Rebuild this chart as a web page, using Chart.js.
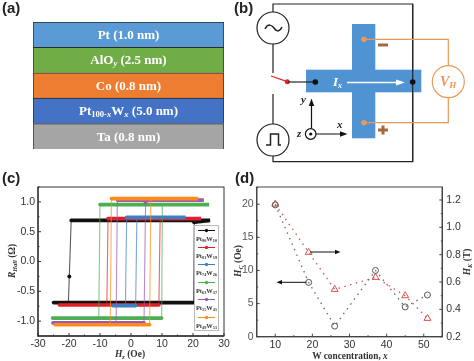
<!DOCTYPE html>
<html>
<head>
<meta charset="utf-8">
<script src="https://cdn.jsdelivr.net/npm/chart.js@4/dist/chart.umd.min.js"></script>
<style>
html, body { margin: 0; padding: 0; background: #fff; }
#page { position: relative; width: 474px; height: 361px; overflow: hidden; }
canvas { position: absolute; }
#page > svg { position: absolute; left: 0; top: 0; }
.panel { position: absolute; font: bold 15px "Liberation Sans", sans-serif; color: #222; }
.serif { font-family: "Liberation Serif", serif; font-weight: bold; }
.ax { position: absolute; white-space: nowrap; color: #333; transform: translate(-50%, -50%); }
.rot { transform: translate(-50%, -50%) rotate(-90deg); }
sub { font-size: 66%; line-height: 0; vertical-align: -0.25em; }
#layers { position: absolute; left: 33px; top: 22px; width: 191px; height: 127px; }
#layers div { height: 25.4px; line-height: 25.4px; text-align: center; color: #fff; font-size: 13px; white-space: nowrap; }
#legend { position: absolute; left: 194px; top: 225px; width: 25px; height: 106px; box-sizing: border-box; border: 1px solid #bbb; background: #fff; }
#legend .row { position: absolute; left: 0; width: 23px; text-align: center; font-size: 6.5px; line-height: 7px; color: #333; white-space: nowrap; }
#legend .row svg { display: block; margin: 0 auto 2px; }
</style>
</head>
<body>
<div id="page">
  <canvas id="stack" width="191" height="127" style="left:33px;top:22px"></canvas>
  <div id="layers" class="serif"></div>
  <canvas id="hall" width="235" height="191" style="left:0;top:170px"></canvas>
  <canvas id="conc" width="239" height="191" style="left:235px;top:170px"></canvas>

  <svg width="474" height="361" viewBox="0 0 474 361">
    <!-- (b) circuit -->
    <g fill="none" stroke="#222" stroke-width="1.2">
      <path d="M273 44V73M273 94V124M273 156V161.7H412.7V4H273V12"/>
      <circle cx="273" cy="28" r="16"/>
      <circle cx="273" cy="140" r="16"/>
      <path d="M265 29C268 23 272 25 274 28C276 31 279 33 282 27" stroke-width="1.5"/>
      <path d="M266 145H270.5V134H278.5V145H281" stroke-width="1.5"/>
    </g>
    <rect x="306" y="69.7" width="115.3" height="22.6" fill="#4f93d2"/>
    <rect x="352" y="24" width="23.3" height="114.3" fill="#4f93d2"/>
    <path d="M412.7 4V161.7" stroke="#222" stroke-width="1.2"/>
    <path d="M271 76L287.3 81.7" stroke="#d8262c" stroke-width="1.3"/>
    <circle cx="287.3" cy="81.7" r="2.5" fill="#d8262c"/>
    <path d="M288 82H315" stroke="#222" stroke-width="1.2"/>
    <circle cx="315.3" cy="82" r="2.8" fill="#111"/>
    <circle cx="412.7" cy="82" r="2.8" fill="#111"/>
    <path d="M347 82.5H402" stroke="#fff" stroke-width="1.6"/>
    <path d="M405 82.5L396 79.5V85.5Z" fill="#fff"/>
    <text class="serif" x="333" y="86" font-size="13" font-style="italic" fill="#fff">I<tspan font-size="8" dy="2">x</tspan></text>
    <g fill="none" stroke="#e8995a" stroke-width="1.2">
      <path d="M364 39.3H448.3V65.7M448.3 97.7V122.7H364"/>
      <circle cx="448.3" cy="81.7" r="16"/>
    </g>
    <circle cx="364" cy="39.3" r="2.8" fill="#e8995a"/>
    <circle cx="364" cy="122.7" r="2.8" fill="#e8995a"/>
    <text class="serif" x="440" y="86" font-size="14" font-style="italic" fill="#e8995a">V<tspan font-size="9" dy="2">H</tspan></text>
    <path d="M378 45H388" stroke="#a5683f" stroke-width="3"/>
    <path d="M378 130H388M383 125.5V134.5" stroke="#a5683f" stroke-width="3"/>
    <g stroke="#111" stroke-width="1.2" fill="none">
      <circle cx="310.7" cy="134" r="5.3"/>
      <path d="M311.5 128V104M316 134H342"/>
    </g>
    <circle cx="310.7" cy="134" r="1.6" fill="#111"/>
    <path d="M311.5 98.5L308.8 106H314.2Z" fill="#111"/>
    <path d="M347.5 134L340 131.3V136.7Z" fill="#111"/>
    <g class="serif" font-size="11" font-style="italic" fill="#222">
      <text x="301" y="103">y</text>
      <text x="337" y="128">x</text>
      <text x="297" y="137">z</text>
    </g>
    <!-- (d) arrows -->
    <path d="M306.5 282.3H279" stroke="#111" stroke-width="1"/>
    <path d="M276.5 282.3L282 280V284.6Z" fill="#111"/>
    <path d="M310 252H338" stroke="#111" stroke-width="1"/>
    <path d="M340.5 252L335 249.7V254.3Z" fill="#111"/>
  </svg>

  <div id="legend" class="serif"></div>

  <div class="panel" style="left:2px;top:-1px">(a)</div>
  <div class="panel" style="left:234px;top:-1px">(b)</div>
  <div class="panel" style="left:2px;top:169px">(c)</div>
  <div class="panel" style="left:235px;top:169px">(d)</div>

  <div class="ax serif" style="left:130px;top:354px;font-size:9.5px"><i>H<sub>z</sub></i> (Oe)</div>
  <div class="ax rot serif" style="left:12px;top:261px;font-size:9.5px"><i>R<sub>Hall</sub></i> (Ω)</div>
  <div class="ax serif" style="left:350px;top:356px;font-size:9.3px">W concentration, <i>x</i></div>
  <div class="ax rot serif" style="left:238px;top:261px;font-size:9.5px"><i>H<sub>C</sub></i> (Oe)</div>
  <div class="ax rot serif" style="left:467px;top:262px;font-size:9.5px"><i>H<sub>K</sub></i> (T)</div>
</div>

<script>
// (a) film stack, top layer first
const layerLabels = [
    'Pt (1.0 nm)',
    'AlO<sub><i>y</i></sub> (2.5 nm)',
    'Co (0.8 nm)',
    'Pt<sub>100-<i>x</i></sub>W<sub><i>x</i></sub> (5.0 nm)',
    'Ta (0.8 nm)'
];
const layerHeights = [1, 1, 1, 1, 1];
const layerColors = ['#5b9bd5', '#70ad47', '#ed7d31', '#4472c4', '#a5a5a5'];

// (c) hysteresis loops, [Hz, RHall]
const loop90 = [[-25, -0.69], [20.2, -0.69], [20.4, 0.66], [25.5, 0.69], [-19.3, 0.69], [-19.9, -0.25], [-20.2, -0.69]];
const loop81 = [[-23.1, -0.73], [9, -0.73], [9.4, 0.72], [22.6, 0.72], [-7.4, 0.72], [-7.8, -0.73]];
const loop74 = [[-5.9, -0.74], [1.5, -0.74], [1.9, 0.74], [17.6, 0.74], [-1.4, 0.74], [-1.8, -0.74]];
const loop63 = [[-25.3, -0.95], [9.9, -0.95], [10.1, 0.955], [25.2, 0.955], [-10, 0.955], [-10.4, -0.95]];
const loop55 = [[-25.2, -1.03], [4.2, -1.03], [4.7, 1], [4.7, 1.03], [23.5, 1.03], [-4.4, 1.03], [-4.8, -1.03]];
const loop49 = [[-24.5, -1.06], [6, -1.06], [6.4, 1.055], [21.7, 1.055], [-6.3, 1.055], [-6.7, -1.06]];
const loops = [loop90, loop81, loop74, loop63, loop55, loop49];
const markers = [[[-19.9, -0.25], [20.4, 0.66]], [], [], [], [[4.7, 1]], []];
const loopColors = ['#111111', '#e0202a', '#3f7fc0', '#4caf50', '#9b59b6', '#ff8c1a'];
const loopNames = [['90', '10'], ['81', '19'], ['74', '26'], ['63', '37'], ['55', '45'], ['49', '51']];
const hallXTicks = [-30, -20, -10, 0, 10, 20, 30];
const hallYTicks = [-1, -0.5, 0, 0.5, 1];

// (d) coercivity and anisotropy field against W content
const concentration = [10, 19, 26, 37, 45, 51];
const coercivity = [19.9, 8.2, 1.6, 10, 4.5, 6.3];
const anisotropy = [1.17, 0.817, 0.546, 0.634, 0.5, 0.334];
const concTicks = [10, 20, 30, 40, 50];
const coercivityTicks = [0, 5, 10, 15, 20];
const anisotropyTicks = [0.2, 0.4, 0.6, 0.8, 1.0, 1.2];

// frame round the plot and inward ticks, majors from the scale, minors from a step
const frameTicks = {
    id: 'frameTicks',
    afterDatasetsDraw(chart, args, opts) {
        const ctx = chart.ctx;
        const a = chart.chartArea;
        ctx.save();
        ctx.strokeStyle = opts.color;
        ctx.lineWidth = 1;
        ctx.strokeRect(a.left, a.top, a.right - a.left, a.bottom - a.top);
        ctx.lineWidth = 1.3;
        ctx.beginPath();
        ctx.moveTo(a.left, a.top);
        ctx.lineTo(a.left, a.bottom);
        ctx.lineTo(a.right, a.bottom);
        if (opts.rightAxis) ctx.lineTo(a.right, a.top);
        ctx.stroke();
        ctx.lineWidth = 1;
        ctx.beginPath();
        for (const id in opts.minor) {
            const s = chart.scales[id];
            const step = opts.minor[id];
            for (let n = Math.ceil(s.min / step); n * step <= s.max + 1e-9; n++) {
                const p = s.getPixelForValue(n * step);
                const major = s.ticks.some(t => Math.abs(t.value - n * step) < 1e-6);
                const len = major ? 3 : 1.5;
                if (s.position === 'bottom') { ctx.moveTo(p, a.bottom); ctx.lineTo(p, a.bottom - len); }
                if (s.position === 'left') { ctx.moveTo(a.left, p); ctx.lineTo(a.left + len, p); }
                if (s.position === 'right') { ctx.moveTo(a.right, p); ctx.lineTo(a.right - len, p); }
            }
        }
        ctx.stroke();
        ctx.restore();
    }
};

function fixedAxis(tickValues, size, color, format, padding) {
    return {
        afterBuildTicks: axis => { axis.ticks = tickValues.map(v => ({ value: v })); },
        afterFit: axis => {
            if (axis.isHorizontal()) axis.height = size; else axis.width = size;
            axis.paddingLeft = axis.paddingRight = axis.paddingTop = axis.paddingBottom = 0;
        },
        grid: { display: false, drawTicks: false },
        border: { display: false },
        ticks: {
            color: color,
            padding: padding,
            maxRotation: 0,
            autoSkip: false,
            font: { family: '"Liberation Sans"', size: 10.5 },
            callback: format
        }
    };
}

// (a) stacked from the bottom layer up
new Chart(document.getElementById('stack'), {
    type: 'bar',
    data: {
        labels: ['stack'],
        datasets: layerHeights.map((h, i) => ({
            data: [h],
            backgroundColor: layerColors[i],
            borderColor: '#2b2b2b',
            borderWidth: 1,
            order: layerHeights.length - i,
            categoryPercentage: 1,
            barPercentage: 1
        }))
    },
    options: {
        responsive: false,
        animation: false,
        plugins: { legend: { display: false }, tooltip: { enabled: false } },
        scales: {
            x: { display: false, stacked: true },
            y: { display: false, stacked: true, min: 0, max: layerHeights.length }
        }
    }
});
document.getElementById('layers').innerHTML = layerLabels.map(t => `<div>${t}</div>`).join('');

// (c)
const hallSets = [];
loops.forEach((loop, i) => {
    const isSwitch = c => Math.abs(c.p0.parsed.y - c.p1.parsed.y) > 0.1;
    hallSets.push({
        data: loop.map(p => ({ x: p[0], y: p[1] })),
        borderColor: loopColors[i],
        borderCapStyle: 'round',
        pointRadius: 0,
        order: loops.length - i,
        segment: {
            borderWidth: c => isSwitch(c) ? 1.1 : 3.6,
            borderColor: c => isSwitch(c) ? loopColors[i] + 'b0' : loopColors[i]
        }
    });
    hallSets.push({
        data: markers[i].map(p => ({ x: p[0], y: p[1] })),
        showLine: false,
        pointRadius: 2,
        pointBackgroundColor: loopColors[i],
        pointBorderWidth: 0,
        order: loops.length - i
    });
});
new Chart(document.getElementById('hall'), {
    type: 'line',
    data: { datasets: hallSets },
    options: {
        responsive: false,
        animation: false,
        layout: { padding: { top: 17, right: 11, left: 0, bottom: 0 } },
        plugins: {
            legend: { display: false },
            tooltip: { enabled: false },
            frameTicks: { color: '#333', minor: { x: 5, y: 0.25 } }
        },
        scales: {
            x: Object.assign(fixedAxis(hallXTicks, 25, '#333', v => v, 2), { type: 'linear', min: -30, max: 30 }),
            y: Object.assign(fixedAxis(hallYTicks, 38, '#333', v => v.toFixed(1), 3), { min: -1.25, max: 1.25 })
        }
    },
    plugins: [frameTicks]
});

document.getElementById('legend').innerHTML = loopNames.map((n, i) =>
    `<div class="row" style="top:${i * 17.4 + 1.5}px"><svg width="19" height="5"><path d="M1 2.5H18" stroke="${loopColors[i]}" stroke-width="1"/><circle cx="9.5" cy="2.5" r="1.7" fill="${loopColors[i]}"/></svg>Pt<sub>${n[0]}</sub>W<sub>${n[1]}</sub></div>`
).join('');

// (d)
new Chart(document.getElementById('conc'), {
    type: 'line',
    data: {
        datasets: [
            {
                yAxisID: 'y',
                data: concentration.map((x, i) => ({ x: x, y: coercivity[i] })),
                borderColor: '#666',
                borderWidth: 1.3,
                borderDash: [1.5, 4.5],
                pointStyle: 'circle',
                pointRadius: 3,
                pointBorderColor: '#555',
                pointBorderWidth: 1,
                pointBackgroundColor: 'rgba(255,255,255,0)'
            },
            {
                yAxisID: 'y1',
                data: concentration.map((x, i) => ({ x: x, y: anisotropy[i] })),
                borderColor: '#d9534f',
                borderWidth: 1.3,
                borderDash: [1.5, 4.5],
                pointStyle: 'triangle',
                pointRadius: 4,
                pointBorderColor: '#d9534f',
                pointBorderWidth: 1,
                pointBackgroundColor: 'rgba(255,255,255,0)'
            }
        ]
    },
    options: {
        responsive: false,
        animation: false,
        layout: { padding: { top: 17, left: 0, right: 0, bottom: 0 } },
        plugins: {
            legend: { display: false },
            tooltip: { enabled: false },
            frameTicks: { color: '#444', rightAxis: true, minor: { x: 5, y: 2.5, y1: 0.1 } }
        },
        scales: {
            x: Object.assign(fixedAxis(concTicks, 24.3, '#333', v => v, 2), { type: 'linear', min: 5, max: 55 }),
            y: Object.assign(fixedAxis(coercivityTicks, 21.7, '#555', v => v, 3), { position: 'left', min: 0, max: 22.6 }),
            y1: Object.assign(fixedAxis(anisotropyTicks, 31.7, '#333', v => v.toFixed(1), 4), { position: 'right', min: 0.2, max: 1.295 })
        }
    },
    plugins: [frameTicks]
});
</script>
</body>
</html>
